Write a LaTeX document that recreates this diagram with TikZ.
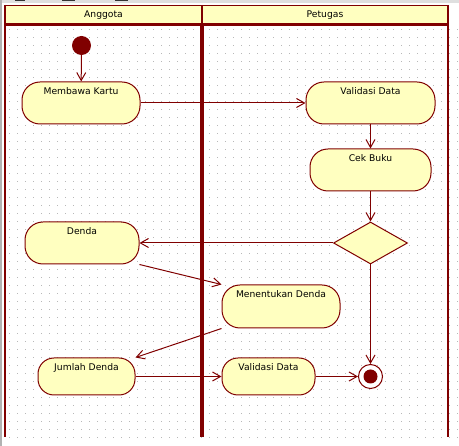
\documentclass[tikz,border=0pt]{standalone}
\usepackage{fontspec}
\setmainfont{DejaVu Sans}
\usetikzlibrary{shapes.geometric,arrows.meta}
\definecolor{uml}{HTML}{800000}
\definecolor{umlfill}{HTML}{FFFFC0}
\definecolor{dotc}{HTML}{B8B8B8}
\begin{document}
\begin{tikzpicture}[x=1pt,y=-1pt,
  act/.style={draw=uml, fill=umlfill, line width=1pt, rounded corners=18pt, inner sep=0pt},
  actsm/.style={act, rounded corners=16pt},
  lbl/.style={font=\fontsize{9.2}{11}\selectfont, inner sep=0pt, text=black},
  flow/.style={draw=uml, line width=1pt, -{Straight Barb[length=8pt,width=9pt]}},
  lane/.style={draw=uml},
]
\fill[white] (0,0) rectangle (459,446);
\useasboundingbox (0,0) rectangle (459,446);
% toolbar remnant
\fill[gray!25] (0,0) rectangle (459,3);
\fill[black!80] (15,0) rectangle (25,1.5);
\fill[black!80] (62,0) rectangle (75,1.5);
\fill[black!80] (115,0) rectangle (128,1.5);
\fill[gray!60] (0,0) rectangle (1.5,446);
% grid dots
\foreach \i in {0,...,56} {
  \foreach \j in {0,...,51} {
    \fill[dotc] (9+8*\i,29+8*\j) rectangle ++(1.2,1.2);
  }
}
% swimlanes
\fill[umlfill] (5,5) rectangle (448,25);
\draw[lane, line width=1.5pt] (5,5.5) -- (449,5.5);
\draw[lane, line width=2.5pt] (5,24.5) -- (449,24.5);
\draw[lane, line width=2pt] (5,5) -- (5,437);
\draw[lane, line width=2.5pt] (448,5) -- (448,437);
\draw[lane, line width=2pt] (201.5,5) -- (201.5,25);
\draw[lane, line width=4pt] (202,25) -- (202,437);
\node[lbl] (hA) at (103.5,15.5) {Anggota};
\node[lbl] (hP) at (325,15.5) {Petugas};
% nodes
\node[circle, fill=uml, minimum size=19pt, inner sep=0pt] (start) at (81.5,45.5) {};
\node[act, minimum width=118pt, minimum height=42pt] (mk) at (81,103) {};
\node[lbl] (mkt) at ([yshift=-10pt]mk.north) {Membawa Kartu};
\node[act, minimum width=129pt, minimum height=42pt] (va1) at (370.5,103) {};
\node[lbl] (va1t) at ([yshift=-10pt]va1.north) {Validasi Data};
\node[act, minimum width=121pt, minimum height=42pt] (cb) at (370.5,170) {};
\node[lbl] (cbt) at ([yshift=-10pt]cb.north) {Cek Buku};
\node[diamond, draw=uml, fill=umlfill, line width=1pt, minimum width=74pt, minimum height=42pt, inner sep=0pt] (dia) at (370.5,243) {};
\node[act, minimum width=114pt, minimum height=42pt] (den) at (82,243) {};
\node[lbl] (dent) at ([yshift=-10pt]den.north) {Denda};
\node[act, minimum width=118pt, minimum height=43pt] (men) at (281,306.5) {};
\node[lbl] (ment) at ([yshift=-10pt]men.north) {Menentukan Denda};
\node[actsm, minimum width=97pt, minimum height=37pt] (jum) at (86.5,376.5) {};
\node[lbl] (jumt) at ([yshift=-10pt]jum.north) {Jumlah Denda};
\node[actsm, minimum width=93pt, minimum height=37pt] (va2) at (268.5,376.5) {};
\node[lbl] (va2t) at ([yshift=-10pt]va2.north) {Validasi Data};
\node[circle, draw=uml, fill=white, line width=1pt, minimum size=24pt, inner sep=0pt] (end) at (370.5,376.5) {};
\fill[uml] (end.center) circle (7);
% connectors
\draw[flow] (start) -- (mk);
\draw[flow] (mk) -- (va1);
\draw[flow] (va1) -- (cb);
\draw[flow] (cb) -- (dia);
\draw[flow] (dia) -- (den);
\draw[flow] (den.south east) -- (men.north west);
\draw[flow] (men.south west) -- (jum.north east);
\draw[flow] (dia) -- (end);
\draw[flow] (jum) -- (va2);
\draw[flow] (va2) -- (end);
\end{tikzpicture}
\end{document}
